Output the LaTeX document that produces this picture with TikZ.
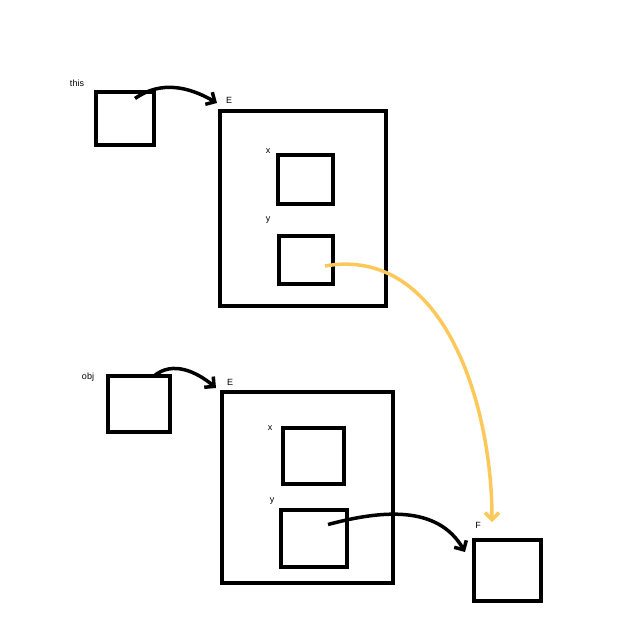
\documentclass[tikz,border=0pt]{standalone}
\usepackage{fontspec}
\setmainfont{Liberation Sans}
\usetikzlibrary{arrows.meta,calc,positioning}
\begin{document}
\begin{tikzpicture}[x=1pt,y=-1pt,
                    thick,box/.style={draw,line width=3.5pt,inner sep=0pt},
                    arr/.style={line width=3.5pt,-{Straight Barb[length=7pt,width=14pt,line width=3.5pt]}},
                    lbl/.style={font=\small,inner sep=0pt}]
  \useasboundingbox (0,0) rectangle (640,640);
  \definecolor{curveorange}{RGB}{252,200,90}

  % upper object
  \node[box,minimum width=58,minimum height=53] (thisbox) at (125,118.5) {};
  \node[lbl] (thislbl) at (77,83) {this};
  \node[box,minimum width=166,minimum height=195] (eone) at (303,208.5) {};
  \node[lbl] (eonelbl) at (229,100) {E};
  \node[box,minimum width=55,minimum height=49] (xone) at (305.5,179.5) {};
  \node[lbl] (xonelbl) at (268,151) {x};
  \node[box,minimum width=54,minimum height=48] (yone) at (306,260) {};
  \node[lbl] (yonelbl) at (268,220) {y};

  % lower object
  \node[box,minimum width=62,minimum height=56] (objbox) at (139,404) {};
  \node[lbl] (objlbl) at (88,377) {obj};
  \node[box,minimum width=171,minimum height=191] (etwo) at (307.5,487.5) {};
  \node[lbl] (etwolbl) at (230,382) {E};
  \node[box,minimum width=61,minimum height=56] (xtwo) at (313.5,456) {};
  \node[lbl] (xtwolbl) at (270,428) {x};
  \node[box,minimum width=66,minimum height=57] (ytwo) at (314,538.5) {};
  \node[lbl] (ytwolbl) at (272,501) {y};

  \node[box,minimum width=67,minimum height=61] (fbox) at (507.5,570.5) {};
  \node[lbl] (flbl) at (478,525) {F};

  \coordinate (eonein) at (217,103);
  \coordinate (etwoin) at (216,388);
  \coordinate (fin) at (465,552);
  \coordinate (ftop) at (492,522);

  \draw[arr] ($(thisbox.center)+(10,-20)$) to[out=35,in=150] (eonein);
  \draw[arr] ($(objbox.center)+(15,-28)$) to[out=40,in=140] (etwoin);
  \draw[arr] ($(ytwo.center)+(14,-14)$) to[out=15,in=120] (fin);
  \draw[arr,curveorange] ($(yone.center)+(19,6)$) to[out=10,in=90] (ftop);
\end{tikzpicture}
\end{document}
